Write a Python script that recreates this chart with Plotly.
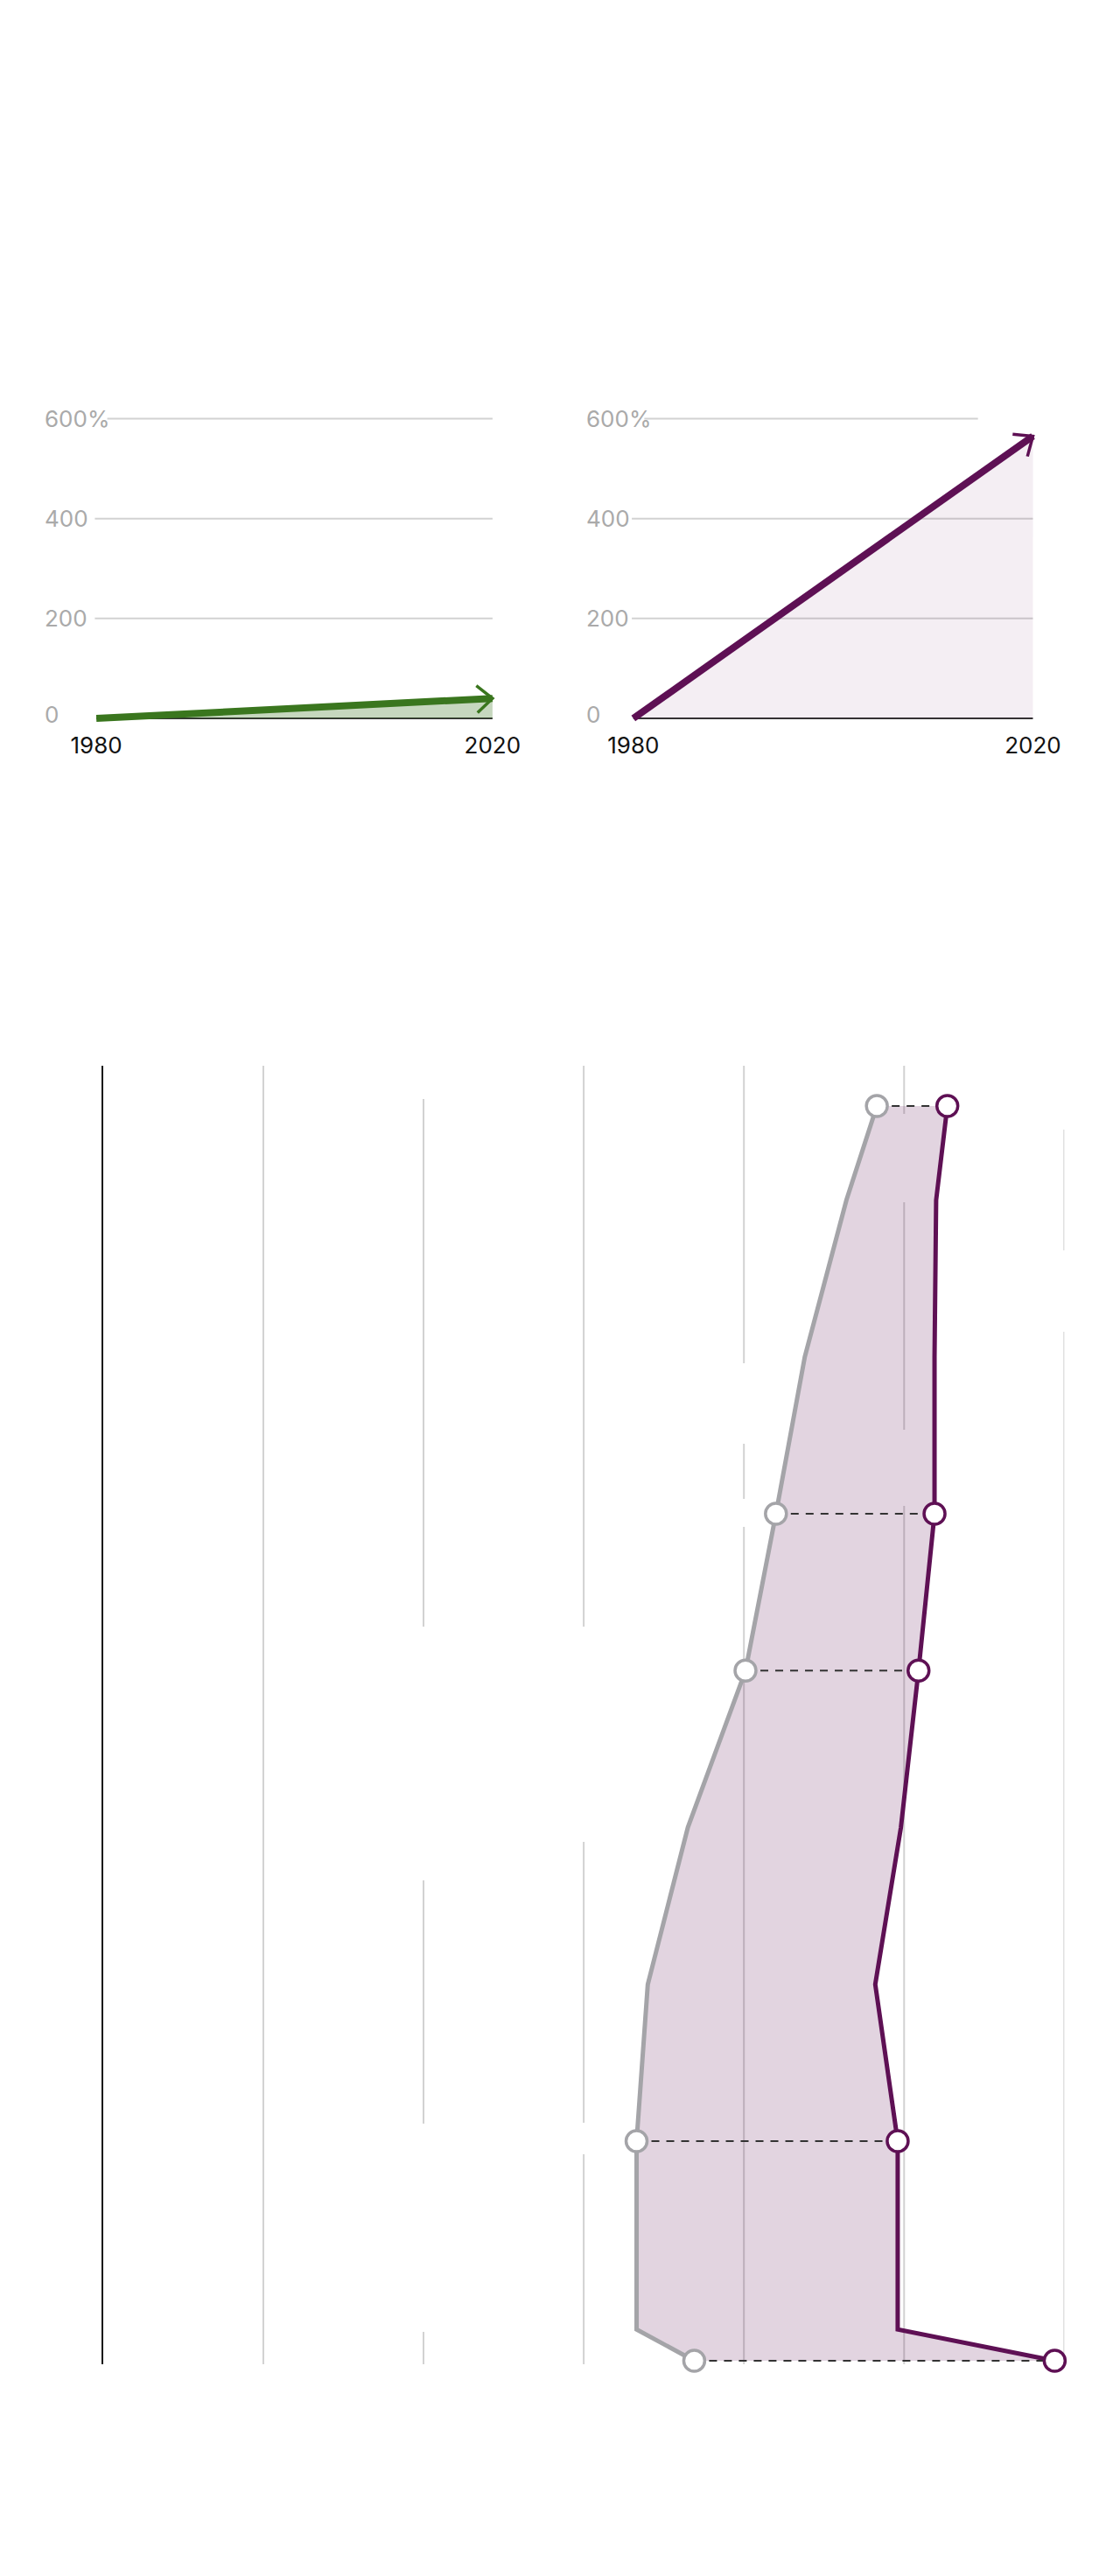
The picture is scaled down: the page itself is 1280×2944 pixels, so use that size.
import math
import plotly.graph_objects as go

W, H = 1280, 2944

# ---- data: top small multiples ----
years_top = [1980, 2020]
green_vals = [0, 40]
purple_vals = [0, 565]
y_ticks = [0, 200, 400, 600]
y_tick_text = ["0", "200", "400", "600%"]

# ---- data: bottom chart ----
rows = [1980, 1983, 1988, 1993, 1998, 2003, 2008, 2013, 2019, 2020]
gray_vals = [48.3, 46.4, 43.8, 42.0, 40.1, 36.5, 34.0, 33.3, 33.3, 36.9]
purple_row_vals = [52.7, 52.0, 51.9, 51.9, 50.9, 49.8, 48.2, 49.6, 49.6, 59.4]
marked_rows = [1980, 1993, 1998, 2013, 2020]
x_grid = [10, 20, 30, 40, 50, 60]

GREEN = "#3a761e"
PURPLE = "#5e1054"
GRAY = "#a4a4a8"
GRID = "#d2d2d2"
FONT = "Inter"


def py(px):
    return 1 - px / H


def px_x(px):
    return px / W


fig = go.Figure()

# top panels: (axis suffix, values, colour, fill, 1980 px, 2020 px, label x px)
panels = [
    ("", green_vals, GREEN, "rgba(58,118,30,0.29)", 95, 562, 34),
    ("2", purple_vals, PURPLE, "rgba(94,16,84,0.07)", 728, 1199, 672),
]
Y0_PX, Y600_PX = 821, 478.5
ky = (Y0_PX - Y600_PX) / 600.0
yr_lo, yr_hi = -15, 610
x_pad = 1.0

for suf, vals, col, fillc, p0, p1, lab_x in panels:
    kx = (p1 - p0) / 40.0
    xa = "x" + suf
    ya = "y" + suf
    fig.add_trace(go.Scatter(
        x=years_top, y=vals, mode="lines", fill="tozeroy", fillcolor=fillc,
        line=dict(color=col, width=8), xaxis=xa, yaxis=ya, hoverinfo="skip"))
    # open chevron arrowhead built from the end of the line
    dx = (years_top[0] - years_top[-1]) * kx
    dy = -(vals[0] - vals[-1]) * ky
    n = math.hypot(dx, dy)
    ux, uy = dx / n, dy / n
    hx, hy = [], []
    for s in (1, 0, -1):
        if s == 0:
            hx.append(years_top[-1])
            hy.append(vals[-1])
            continue
        a = math.radians(40 * s)
        rx = ux * math.cos(a) - uy * math.sin(a)
        ry = ux * math.sin(a) + uy * math.cos(a)
        hx.append(years_top[-1] + rx * 24 / kx)
        hy.append(vals[-1] - ry * 24 / ky)
    fig.add_trace(go.Scatter(
        x=hx, y=hy, mode="lines", line=dict(color=col, width=3.5),
        xaxis=xa, yaxis=ya, hoverinfo="skip"))

    left = p0 - x_pad * kx
    right = p1 + x_pad * kx
    bottom = Y0_PX + (0 - yr_lo) * ky
    top = Y600_PX - (yr_hi - 600) * ky
    lay_x = "xaxis" + suf
    lay_y = "yaxis" + suf
    fig.layout[lay_x] = dict(
        domain=[px_x(left), px_x(right)], range=[1980 - x_pad, 2020 + x_pad],
        anchor=ya, showgrid=False, zeroline=False, showline=False,
        tickvals=years_top, ticktext=[str(v) for v in years_top],
        ticks="", ticklabelstandoff=4,
        tickfont=dict(family=FONT, size=26, color="#111"), fixedrange=True)
    fig.layout[lay_y] = dict(
        domain=[py(bottom), py(top)], range=[yr_lo, yr_hi], anchor=xa,
        showgrid=False, zeroline=False, showline=False, showticklabels=False,
        fixedrange=True)

    # gridlines, broken where the labels sit
    for v, t in zip(y_ticks, y_tick_text):
        if v == 0:
            fig.add_shape(type="line", xref=xa, yref=ya, x0=1980, x1=2020,
                          y0=0, y1=0, line=dict(color="#333", width=2),
                          layer="below")
        else:
            start = 1980 - 0.15 if v < 600 else 1981.1
            end = 2020 if (v < 600 or suf == "") else 2014.5
            fig.add_shape(type="line", xref=xa, yref=ya, x0=start, x1=end,
                          y0=v, y1=v, line=dict(color=GRID, width=2),
                          layer="below")
        fig.add_annotation(
            x=px_x(lab_x), xref="paper", y=v, yref=ya, text=t,
            showarrow=False, xanchor="left", yanchor="middle",
            xshift=-2, yshift=5 if v == 0 else 0,
            font=dict(family=FONT, size=26, color="#aaaaaa"))

# ---- bottom chart ----
BX0, BX60 = 103, 1236
BTOP, BBOT = 1218, 2702
fig.add_trace(go.Scatter(
    x=gray_vals, y=rows, mode="lines", line=dict(color=GRAY, width=5),
    xaxis="x3", yaxis="y3", hoverinfo="skip"))
fig.add_trace(go.Scatter(
    x=purple_row_vals, y=rows, mode="lines", fill="tonextx",
    fillcolor="rgba(94,16,84,0.18)", line=dict(color=PURPLE, width=5),
    xaxis="x3", yaxis="y3", hoverinfo="skip"))

gm = [gray_vals[rows.index(r)] for r in marked_rows]
pm = [purple_row_vals[rows.index(r)] for r in marked_rows]
dash_x, dash_y = [], []
for r, g, p in zip(marked_rows, gm, pm):
    dash_x += [g, p, None]
    dash_y += [r, r, None]
fig.add_trace(go.Scatter(
    x=dash_x, y=dash_y, mode="lines",
    line=dict(color="#333", width=2, dash="9px,8px"),
    xaxis="x3", yaxis="y3", hoverinfo="skip"))
fig.add_trace(go.Scatter(
    x=gm, y=marked_rows, mode="markers", cliponaxis=False,
    marker=dict(size=24, color="white", line=dict(color=GRAY, width=3.5)),
    xaxis="x3", yaxis="y3", hoverinfo="skip"))
fig.add_trace(go.Scatter(
    x=pm, y=marked_rows, mode="markers", cliponaxis=False,
    marker=dict(size=24, color="white", line=dict(color=PURPLE, width=3.5)),
    xaxis="x3", yaxis="y3", hoverinfo="skip"))

# year <-> pixel mapping of the bottom panel
ROW0_PX, ROW1_PX = 1264, 2698
ky3 = (ROW1_PX - ROW0_PX) / (rows[-1] - rows[0])
y3_top = rows[0] - (ROW0_PX - BTOP) / ky3
y3_bot = rows[-1] + (BBOT - ROW1_PX) / ky3

fig.update_layout(
    xaxis3=dict(domain=[px_x(BX0), px_x(BX60)], range=[0, 60], anchor="y3",
                showgrid=False, zeroline=False, showline=False,
                showticklabels=False, fixedrange=True),
    yaxis3=dict(domain=[py(BBOT), py(BTOP)], range=[y3_bot, y3_top],
                anchor="x3", showgrid=False, zeroline=False,
                showline=True, linecolor="#111", linewidth=2,
                showticklabels=False, ticks="", fixedrange=True),
)

# vertical gridlines with gaps (px ranges left blank behind hidden labels)
grid_gaps = {
    10: [],
    20: [(1218, 1256), (1859, 2149), (2427, 2665)],
    30: [(1859, 2105), (2426, 2462)],
    40: [(1558, 1650), (1713, 1745)],
    50: [(1273, 1374), (1634, 1721)],
    60: [(1218, 1291), (1429, 1522)],
}
for gx in x_grid:
    segs = []
    cur = BTOP
    for a, b in grid_gaps[gx]:
        if a > cur:
            segs.append((cur, a))
        cur = b
    if cur < BBOT:
        segs.append((cur, BBOT))
    for a, b in segs:
        fig.add_shape(type="line", xref="x3", yref="paper", x0=gx, x1=gx,
                      y0=py(a), y1=py(b), line=dict(color=GRID, width=2),
                      layer="below")

fig.update_layout(
    width=W, height=H, autosize=False,
    margin=dict(l=0, r=0, t=0, b=0, pad=0),
    paper_bgcolor="white", plot_bgcolor="rgba(0,0,0,0)",
    showlegend=False, font=dict(family=FONT),
)

fig.write_html(
    "out.html", config={"displayModeBar": False},
    post_script="document.body.style.margin='0';"
                "document.body.style.overflow='hidden';")
